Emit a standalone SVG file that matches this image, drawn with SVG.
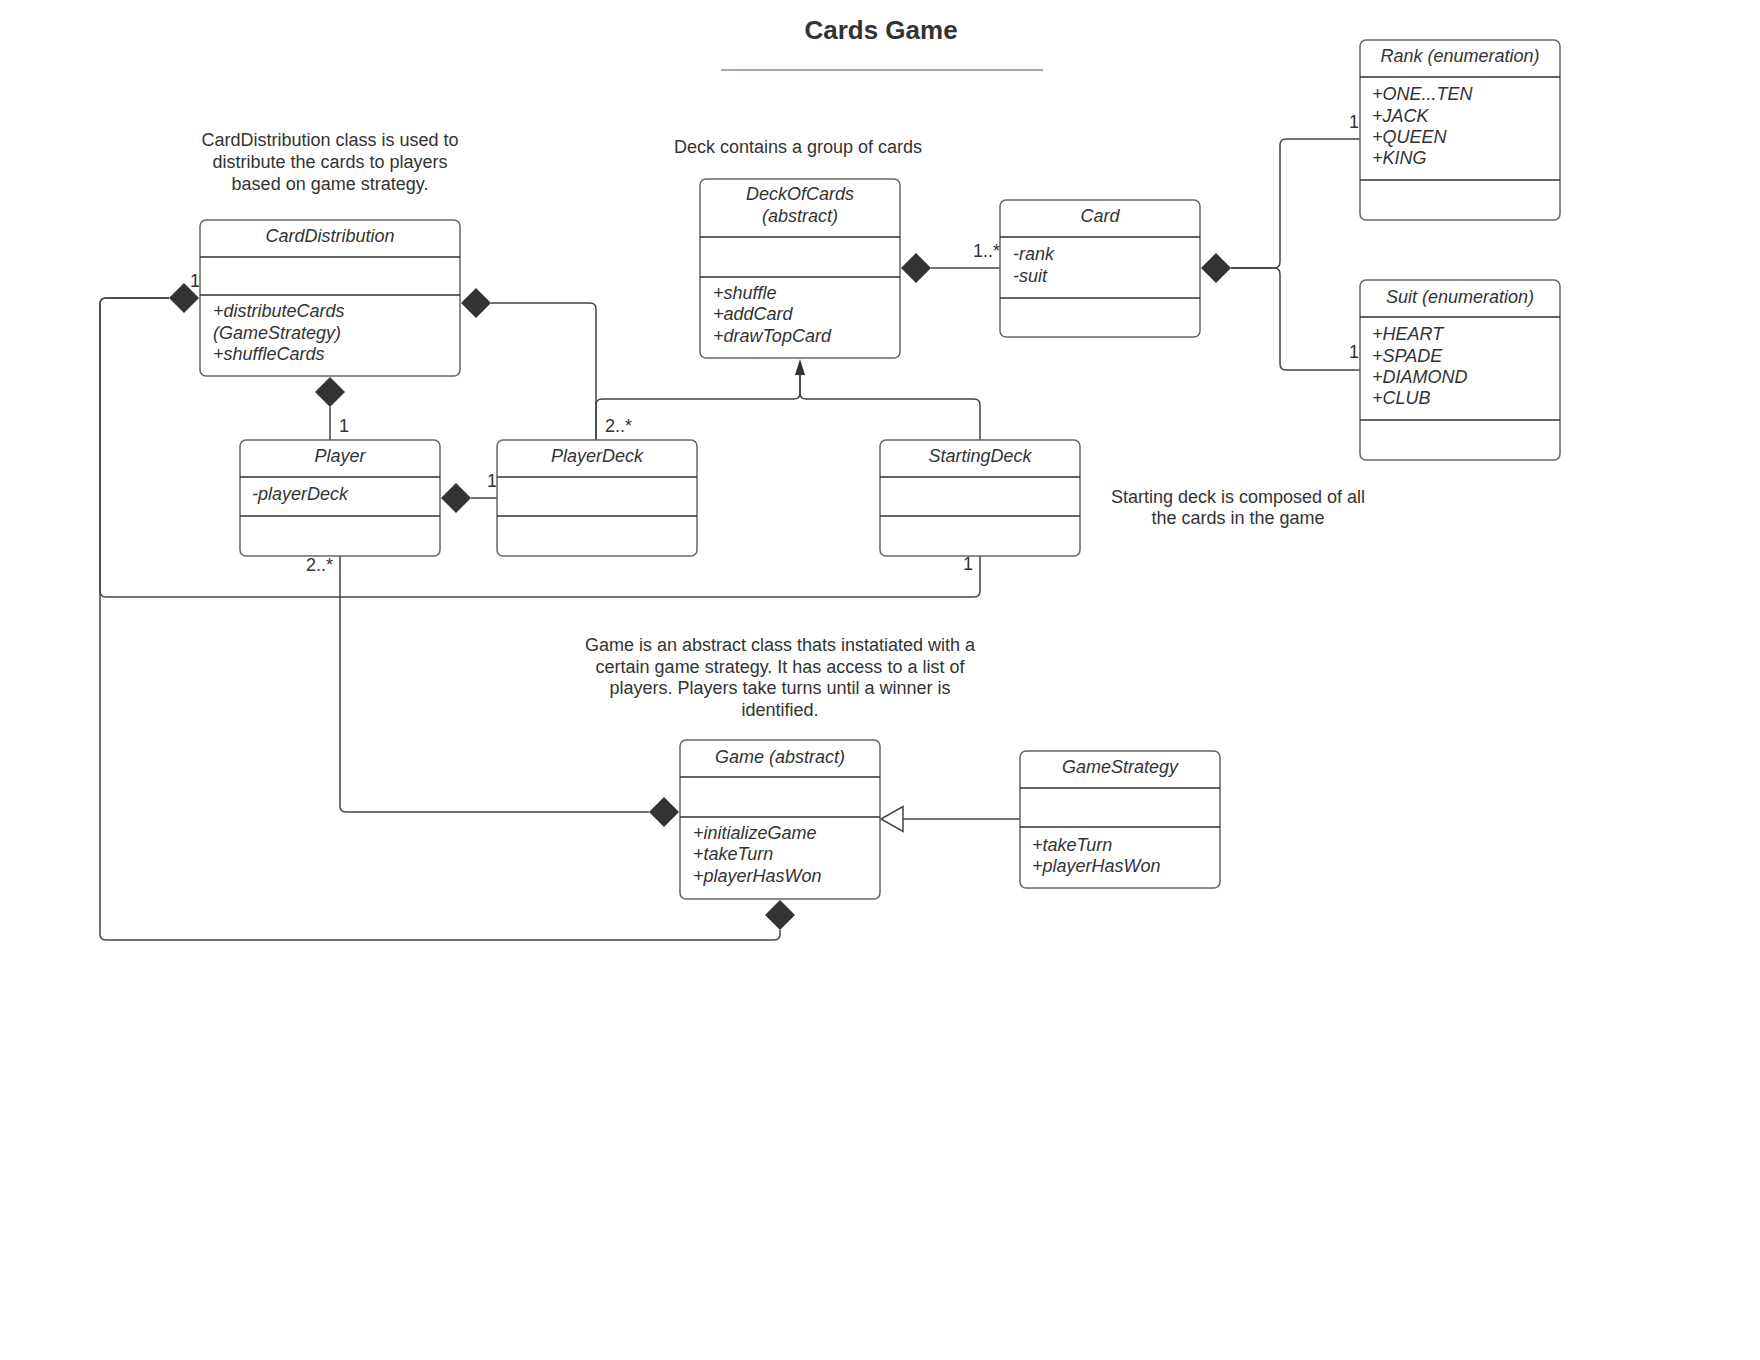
<svg xmlns="http://www.w3.org/2000/svg" width="1760" height="1360" viewBox="0 0 1760 1360">
<style>
text{font-family:"Liberation Sans",Arial,sans-serif;font-size:18px;fill:#333}
.t{font-size:26px;font-weight:bold;text-anchor:middle}
.c{text-anchor:middle}
.i{font-style:italic}
.box{fill:#fff;stroke:#666;stroke-width:1.5}
.div{stroke:#333;stroke-width:1.5}
.con{fill:none;stroke:#444;stroke-width:1.5}
.dia{fill:#333;stroke:none}
</style>
<defs>
<path id="dm" d="M-15,0 L0,-15 L15,0 L0,15 Z"/>
</defs>
<rect width="1760" height="1360" fill="#fff"/>
<g id="title">
<text class="t" x="881" y="39">Cards Game</text>
<line x1="721" y1="70" x2="1043" y2="70" stroke="#9ea8b8" stroke-width="2"/>
</g>
<g id="connectors">
<path class="con" d="M169,298 H106 Q100,298 100,304 V591 Q100,597 106,597 H974 Q980,597 980,591 V556"/>
<path class="con" d="M780,930 V934 Q780,940 774,940 H106 Q100,940 100,934 V304 Q100,298 106,298 H169"/>
<use href="#dm" class="dia" x="184" y="298"/>
<use href="#dm" class="dia" x="780" y="915"/>
<path class="con" d="M491,303 H590 Q596,303 596,309 V440"/>
<use href="#dm" class="dia" x="476" y="303"/>
<path class="con" d="M330,407 V440"/>
<use href="#dm" class="dia" x="330" y="392"/>
<path class="con" d="M471,498 H497"/>
<use href="#dm" class="dia" x="456" y="498"/>
<path class="con" d="M340,556 V806 Q340,812 346,812 H649"/>
<use href="#dm" class="dia" x="664" y="812"/>
<path class="con" d="M596,440 V405 Q596,399 602,399 H794 Q800,399 800,393 V375"/>
<path class="con" d="M980,440 V405 Q980,399 974,399 H806 Q800,399 800,393 V375"/>
<path class="dia" d="M800,359 L805,375 L795,375 Z"/>
<path class="con" d="M931,268 H1000"/>
<use href="#dm" class="dia" x="916" y="268"/>
<path class="con" d="M1231,268 H1274 Q1280,268 1280,262 V145 Q1280,139 1286,139 H1360"/>
<path class="con" d="M1231,268 H1274 Q1280,268 1280,274 V364 Q1280,370 1286,370 H1360"/>
<use href="#dm" class="dia" x="1216" y="268"/>
<path class="con" d="M1020,819 H903"/>
<path d="M881,819 L903,806.5 L903,831.5 Z" fill="#fff" stroke="#444" stroke-width="1.5"/>
<text x="190" y="287">1</text>
<text x="339" y="432">1</text>
<text x="487" y="487">1</text>
<text x="306" y="571">2..*</text>
<text x="605" y="432">2..*</text>
<text x="973" y="257">1..*</text>
<text x="963" y="570">1</text>
<text x="1349" y="128">1</text>
<text x="1349" y="358">1</text>
</g>
<g id="notes">
<text class="c" x="330" y="146">CardDistribution class is used to</text>
<text class="c" x="330" y="168">distribute the cards to players</text>
<text class="c" x="330" y="190">based on game strategy.</text>
<text class="c" x="798" y="153">Deck contains a group of cards</text>
<text class="c" x="1238" y="503">Starting deck is composed of all</text>
<text class="c" x="1238" y="524">the cards in the game</text>
<text class="c" x="780" y="651">Game is an abstract class thats instatiated with a</text>
<text class="c" x="780" y="673">certain game strategy. It has access to a list of</text>
<text class="c" x="780" y="694">players. Players take turns until a winner is</text>
<text class="c" x="780" y="716">identified.</text>
</g>
<g id="CardDistribution">
<rect class="box" x="200" y="220" width="260" height="156" rx="6"/>
<line class="div" x1="200" y1="257" x2="460" y2="257"/>
<line class="div" x1="200" y1="295" x2="460" y2="295"/>
<text class="c i" x="330" y="242">CardDistribution</text>
<text class="i" x="213" y="317">+distributeCards</text>
<text class="i" x="213" y="338.5">(GameStrategy)</text>
<text class="i" x="213" y="360">+shuffleCards</text>
</g>
<g id="DeckOfCards">
<rect class="box" x="700" y="179" width="200" height="179" rx="6"/>
<line class="div" x1="700" y1="237" x2="900" y2="237"/>
<line class="div" x1="700" y1="277" x2="900" y2="277"/>
<text class="c i" x="800" y="200">DeckOfCards</text>
<text class="c i" x="800" y="222">(abstract)</text>
<text class="i" x="713" y="299">+shuffle</text>
<text class="i" x="713" y="320">+addCard</text>
<text class="i" x="713" y="342">+drawTopCard</text>
</g>
<g id="Card">
<rect class="box" x="1000" y="200" width="200" height="137" rx="6"/>
<line class="div" x1="1000" y1="237" x2="1200" y2="237"/>
<line class="div" x1="1000" y1="298" x2="1200" y2="298"/>
<text class="c i" x="1100" y="222">Card</text>
<text class="i" x="1013" y="260">-rank</text>
<text class="i" x="1013" y="282">-suit</text>
</g>
<g id="Rank">
<rect class="box" x="1360" y="40" width="200" height="180" rx="6"/>
<line class="div" x1="1360" y1="77" x2="1560" y2="77"/>
<line class="div" x1="1360" y1="180" x2="1560" y2="180"/>
<text class="c i" x="1460" y="62">Rank (enumeration)</text>
<text class="i" x="1372" y="100">+ONE...TEN</text>
<text class="i" x="1372" y="122">+JACK</text>
<text class="i" x="1372" y="143">+QUEEN</text>
<text class="i" x="1372" y="164">+KING</text>
</g>
<g id="Suit">
<rect class="box" x="1360" y="280" width="200" height="180" rx="6"/>
<line class="div" x1="1360" y1="317" x2="1560" y2="317"/>
<line class="div" x1="1360" y1="420" x2="1560" y2="420"/>
<text class="c i" x="1460" y="303">Suit (enumeration)</text>
<text class="i" x="1372" y="340">+HEART</text>
<text class="i" x="1372" y="362">+SPADE</text>
<text class="i" x="1372" y="383">+DIAMOND</text>
<text class="i" x="1372" y="404">+CLUB</text>
</g>
<g id="Player">
<rect class="box" x="240" y="440" width="200" height="116" rx="6"/>
<line class="div" x1="240" y1="477" x2="440" y2="477"/>
<line class="div" x1="240" y1="516" x2="440" y2="516"/>
<text class="c i" x="340" y="462">Player</text>
<text class="i" x="252" y="500">-playerDeck</text>
</g>
<g id="PlayerDeck">
<rect class="box" x="497" y="440" width="200" height="116" rx="6"/>
<line class="div" x1="497" y1="477" x2="697" y2="477"/>
<line class="div" x1="497" y1="516" x2="697" y2="516"/>
<text class="c i" x="597" y="462">PlayerDeck</text>
</g>
<g id="StartingDeck">
<rect class="box" x="880" y="440" width="200" height="116" rx="6"/>
<line class="div" x1="880" y1="477" x2="1080" y2="477"/>
<line class="div" x1="880" y1="516" x2="1080" y2="516"/>
<text class="c i" x="980" y="462">StartingDeck</text>
</g>
<g id="Game">
<rect class="box" x="680" y="740" width="200" height="159" rx="6"/>
<line class="div" x1="680" y1="777" x2="880" y2="777"/>
<line class="div" x1="680" y1="817" x2="880" y2="817"/>
<text class="c i" x="780" y="763">Game (abstract)</text>
<text class="i" x="693" y="839">+initializeGame</text>
<text class="i" x="693" y="860">+takeTurn</text>
<text class="i" x="693" y="882">+playerHasWon</text>
</g>
<g id="GameStrategy">
<rect class="box" x="1020" y="751" width="200" height="137" rx="6"/>
<line class="div" x1="1020" y1="788" x2="1220" y2="788"/>
<line class="div" x1="1020" y1="827" x2="1220" y2="827"/>
<text class="c i" x="1120" y="773">GameStrategy</text>
<text class="i" x="1032" y="851">+takeTurn</text>
<text class="i" x="1032" y="872">+playerHasWon</text>
</g>
</svg>
